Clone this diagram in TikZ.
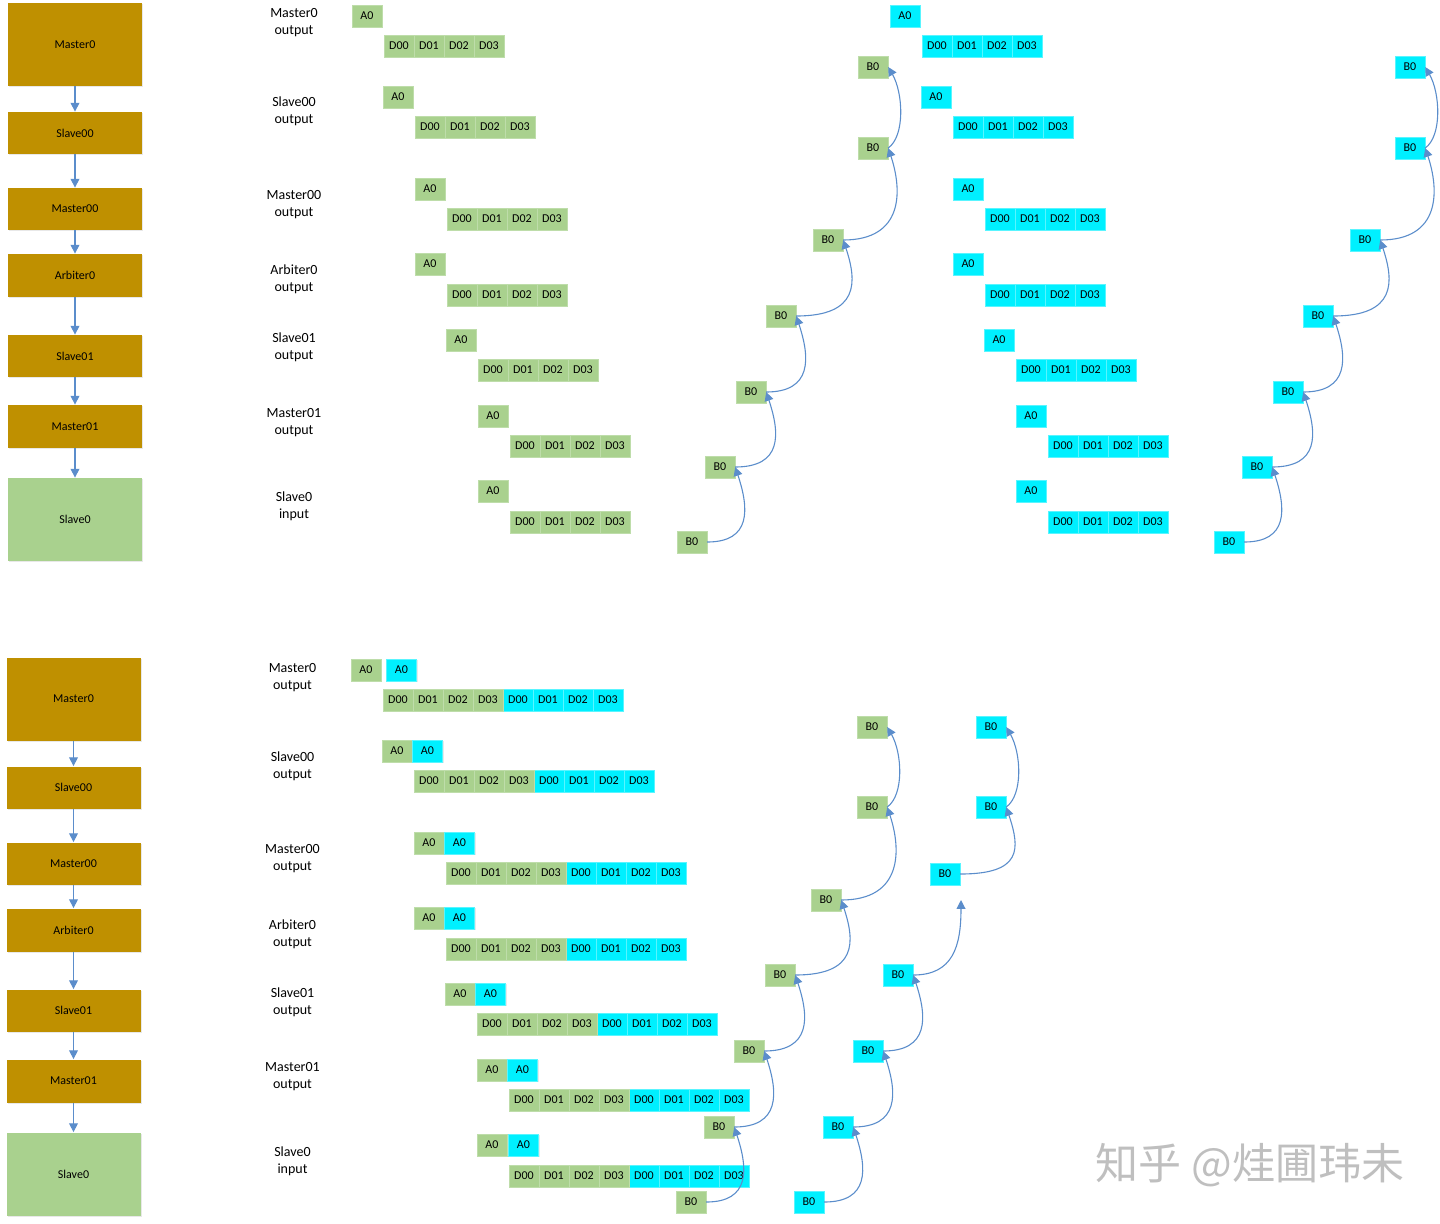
\documentclass[tikz,border=0pt]{standalone}
\usepackage{fontspec}
\setmainfont{Carlito}
\newfontfamily\cjk{Noto Sans CJK SC}
\usetikzlibrary{arrows.meta,shadows,positioning}
\definecolor{gold}{HTML}{BF9000}
\definecolor{leaf}{HTML}{A9D18E}
\definecolor{aqua}{HTML}{00F0FF}
\definecolor{wire}{HTML}{5B8DCB}
\tikzset{
  box/.style={minimum width=15pt,minimum height=11pt,inner sep=0pt,font=\fontsize{6}{7}\selectfont,
    drop shadow={shadow xshift=0.6pt,shadow yshift=-0.6pt,opacity=0.18}},
  gcell/.style={box,fill=leaf,draw=leaf!75!white,line width=0.2pt},
  ccell/.style={box,fill=aqua,draw=aqua!65!white,line width=0.2pt},
  unit/.style={box,fill=gold,minimum width=67pt},
  port/.style={align=center,font=\fontsize{7}{8.5}\selectfont},
  flow/.style={wire,line width=0.55pt,-{Triangle[length=4.4pt,width=4.4pt]}},
}
% column of units with arrows
\newcommand\unitcolumn[1]{%
  \foreach \nm/\y/\h [count=\i] in {Master0/44.5/41.5,Slave00/133/21,Master00/209/21,Arbiter0/275.5/21.5,Slave01/356/21,Master01/426.5/21.5}
    \node[unit,minimum height=\h pt] (#1u\i) at (75,\y) {\nm};
  \node[unit,fill=leaf,minimum height=41.5pt] (#1u7) at (75,519.5) {Slave0};
  \foreach \i [evaluate=\i as \j using int(\i+1)] in {1,...,6}
    \draw[flow] (#1u\i) -- (#1u\j);
}
% port names
\newcommand\portlabels[1]{%
  \foreach \la/\lb/\y [count=\i] in {Master0/output/23,Slave00/output/111.5,Master00/output/204.5,Arbiter0/output/279.5,Slave01/output/347.5,Master01/output/422.5,Slave0/input/506.5}
    \node[port] (#1p\i) at (294,\y) {\la\\\lb};
}
\def\rowdata{367/16/46,398/97/127,430/189/219,430/264/295,461/340/370,493/416/446,493/491/522}
\begin{document}
\begin{tikzpicture}[x=0.5pt,y=-0.5pt]
\useasboundingbox (0,0) rectangle (1440,1223);
%%% upper half
\unitcolumn{t}
\portlabels{t}
\foreach \xa/\ya/\yd [count=\r] in \rowdata {
  \node[gcell] (tga\r) at (\xa,\ya) {A0};
  \node[ccell] (tca\r) at (\xa+538,\ya) {A0};
  \foreach \k in {0,...,3} {
    \node[gcell] (tgd\r-\k) at (\xa+32+30*\k,\yd) {D0\k};
    \node[ccell] (tcd\r-\k) at (\xa+570+30*\k,\yd) {D0\k};
  }
}
\foreach \x/\y [count=\i] in {873/67,873/148,828/240,781/316,751/392,720/467,692/542} {
  \node[gcell] (tgb\i) at (\x,\y) {B0};
  \node[ccell] (tcb\i) at (\x+537,\y) {B0};
}
\foreach \i/\j/\dx in {7/6/44,6/5/47,5/4/46,4/3/63,3/2/61} {
  \draw[flow] (tgb\i.east) .. controls +(\dx,0) and +(14,42) .. (tgb\j.east);
  \draw[flow] (tcb\i.east) .. controls +(\dx,0) and +(14,42) .. (tcb\j.east);
}
\draw[flow] (tgb2.east) .. controls +(17,-12) and +(15,26) .. (tgb1.east);
\draw[flow] (tcb2.east) .. controls +(17,-12) and +(15,26) .. (tcb1.east);
%%% lower half
\begin{scope}[shift={(-1.5,654.5)}]
\unitcolumn{b}
\portlabels{b}
\end{scope}
\begin{scope}[shift={(-1,654)}]
\foreach \xa/\ya/\yd [count=\r] in \rowdata {
  \node[gcell] (bga\r) at (\xa,\ya) {A0};
  \foreach \k in {0,...,3} {
    \node[gcell] (bgd\r-\k) at (\xa+32+30*\k,\yd) {D0\k};
    \node[ccell] (bcd\r-\k) at (\xa+152+30*\k,\yd) {D0\k};
  }
}
\end{scope}
\foreach \r/\gap in {1/2.5,2/0,3/0,4/0,5/0,6/0,7/0.5}
  \node[ccell,right=\gap pt of bga\r] (bca\r) {A0};
\foreach \x/\y [count=\i] in {872/727,872/807,826/900,780/975,749/1051,719/1127,691/1202}
  \node[gcell] (bgb\i) at (\x,\y) {B0};
\foreach \x/\y [count=\i] in {991/727,991/807,945/874,898/975,868/1051,838/1127,809/1202}
  \node[ccell] (bcb\i) at (\x,\y) {B0};
\coordinate (bfree) at (961,900);
\foreach \i/\j/\dx in {7/6/44,6/5/46,5/4/47,4/3/62,3/2/62}
  \draw[flow] (bgb\i.east) .. controls +(\dx,0) and +(14,42) .. (bgb\j.east);
\draw[flow] (bgb2.east) .. controls +(17,-12) and +(15,26) .. (bgb1.east);
\foreach \i/\j/\dx in {7/6/45,6/5/46,5/4/46,3/2/62}
  \draw[flow] (bcb\i.east) .. controls +(\dx,0) and +(14,42) .. (bcb\j.east);
\draw[flow] (bcb4.east) .. controls +(40,0) and +(0,46) .. (bfree);
\draw[flow] (bcb2.east) .. controls +(17,-12) and +(15,26) .. (bcb1.east);
% watermark
\node[text=gray!50,font=\cjk\fontsize{21.5}{21.5}\selectfont] (mark) at (1250,1165) {知乎 @烓圃玮未};
\end{tikzpicture}
\end{document}
